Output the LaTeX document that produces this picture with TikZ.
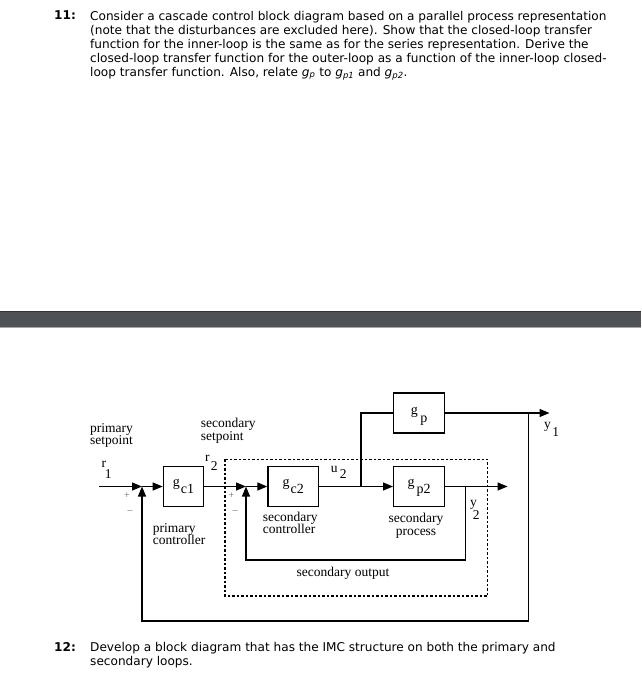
\documentclass[tikz,border=0pt]{standalone}
\usepackage{fontspec}
\setmainfont{DejaVu Sans}
\newfontfamily\serifa{Liberation Serif}
\usepackage{tikz}
\usetikzlibrary{positioning,arrows.meta}
\definecolor{barra}{RGB}{78,82,85}
\newcommand{\basso}[4]{#1\kern#4\raisebox{-#3}{#2}}

\begin{document}
\begin{tikzpicture}[x=1pt, y=-1pt,
    blocco/.style={draw, line width=1.3pt, minimum width=50.7pt, minimum height=40pt, inner sep=0pt,
      text height=5pt, text depth=5pt, font=\serifa\fontsize{14}{14}\selectfont},
    nota/.style={font=\serifa\fontsize{13.5}{12.5}\selectfont, align=left, inner sep=0pt},
    segno/.style={font=\serifa\fontsize{10}{10}\selectfont, text=black!60, inner sep=0pt},
    freccia/.style={line width=1.3pt, -{Triangle[length=10pt,width=8pt]}},
    linea/.style={line width=1.3pt},
    testo/.style={font=\fontsize{12.1}{14}\selectfont, align=left, anchor=north west, inner sep=0pt}]

  \useasboundingbox[fill=white] (0,0) rectangle (641,698);

  % Domanda 11
  \node (n11) [testo, anchor=base west, font=\bfseries\fontsize{12.1}{14}\selectfont] at (54,20) {11:};
  \node (d11) [testo] at (90,10.8) {Consider a cascade control block diagram based on a parallel process representation\\
    (note that the disturbances are excluded here). Show that the closed-loop transfer\\
    function for the inner-loop is the same as for the series representation. Derive the\\
    closed-loop transfer function for the outer-loop as a function of the inner-loop closed-\\
    loop transfer function. Also, relate \textit{g\textsubscript{p}} to \textit{g\textsubscript{p1}} and \textit{g\textsubscript{p2}}.};

  % Barra
  \fill[barra] (0,310.5) rectangle (641,328);
  \draw[black!80, line width=0.8pt] (0,310.9) -- (641,310.9);
  \draw[black!35, line width=0.8pt] (0,327.8) -- (641,327.8);

  % Blocchi
  \node (C1) at (183.5,486.5) [blocco, minimum width=40.3pt] {\basso{g}{c1}{6.5pt}{1pt}};
  \node (C2) at (293.3,486.5) [blocco] {\basso{g}{c2}{6.5pt}{1pt}};
  \node (P2) at (419,486.5) [blocco] {\basso{g}{p2}{6.5pt}{2pt}};
  \node (P) at (419,413) [blocco] {\raisebox{-1.5pt}{\basso{g}{p}{8.4pt}{2.5pt}}};

  % Punti di somma e diramazioni
  \coordinate (ingresso) at (99,486.5);
  \coordinate (S1) at (142,486.5);
  \coordinate (S2) at (246,486.5);
  \coordinate (R) at (361,486.5);
  \coordinate (Y2) at (465.5,486.5);
  \coordinate (uscita2) at (507.5,486.5);
  \coordinate (Y1) at (528.5,413);
  \coordinate (uscita1) at (549.5,413);
  \coordinate (A2) at (246,560);
  \coordinate (A1) at (142,621);

  % Collegamenti
  \draw[freccia] (ingresso) -- (S1);
  \draw[freccia] (S1) -- (C1);
  \draw[freccia] (C1) -- (S2);
  \draw[freccia] (S2) -- (C2);
  \draw[linea] (C2) -- (R);
  \draw[freccia] (R) -- (P2);
  \draw[linea] (R) |- (P);
  \draw[freccia] (P) -- (uscita1);
  \draw[freccia] (P2) -- (uscita2);
  \draw[freccia] (Y2) |- (A2) -- (S2);
  \draw[freccia] (Y1) |- (A1) -- (S1);

  % Anello interno
  \draw[line width=1.2pt, dash pattern=on 2.5pt off 2pt] (225,459.3) rectangle (487.8,596);

  % Etichette
  \node (setp1) [nota, anchor=north west] at (90,423.3) {primary\\setpoint};
  \node (setp2) [nota, anchor=north west] at (200.7,418.3) {secondary\\setpoint};
  \node (ctrl1) [nota, anchor=north west] at (152.7,523.3) {primary\\controller};
  \node (ctrl2) [nota, anchor=north west] at (262.7,511.7) {secondary\\controller};
  \node (proc2) [nota, anchor=north, align=center] at (416,513.3) {secondary\\process};
  \node (usc2) [nota, anchor=north] at (343,566.7) {secondary output};
  \node (r1) [nota, anchor=base west] at (101.5,467.3) {\basso{r}{1}{10.7pt}{-1.4pt}};
  \node (r2) [nota, anchor=base west] at (205,461.7) {\basso{r}{2}{8.3pt}{1.3pt}};
  \node (u2) [nota, anchor=base west] at (330.7,472.7) {\basso{u}{2}{5.6pt}{2.3pt}};
  \node (y1) [nota, anchor=base west] at (544,428) {\basso{y}{1}{8.7pt}{1.3pt}};
  \node (y2) [nota, anchor=base west] at (470,506.3) {\basso{y}{2}{13pt}{-4pt}};
  \node (piu1) [segno] at (127,496) {+};
  \node (meno1) [segno] at (130,512.7) {–};
  \node (piu2) [segno] at (231.5,496) {+};
  \node (meno2) [segno] at (235,512.7) {–};

  % Domanda 12
  \node (n12) [testo, anchor=base west, font=\bfseries\fontsize{12.1}{14}\selectfont] at (54,651.7) {12:};
  \node (d12) [testo] at (90,642.5) {Develop a block diagram that has the IMC structure on both the primary and\\
    secondary loops.};
\end{tikzpicture}
\end{document}
